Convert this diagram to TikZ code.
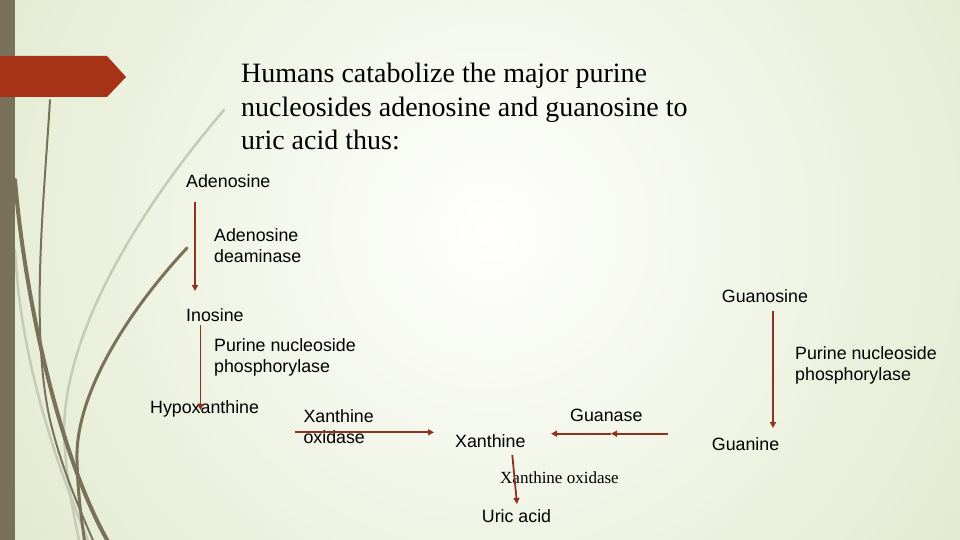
\documentclass[tikz,border=0pt]{standalone}
\usepackage{fontspec}
\setmainfont{Liberation Serif}
\setsansfont{Liberation Sans}
\usetikzlibrary{arrows.meta}
\definecolor{bgout}{RGB}{212,224,182}
\definecolor{barc}{RGB}{122,113,90}
\definecolor{bannerc}{RGB}{166,50,24}
\definecolor{arrc}{RGB}{140,50,30}
\definecolor{swdark}{RGB}{122,113,90}
\definecolor{swlight}{RGB}{197,203,180}
\tikzset{
  lbl/.style={font=\sffamily\fontsize{17.8}{21}\selectfont, inner sep=0pt, anchor=base west, align=left, text=black},
  serifl/.style={font=\fontsize{17}{20}\selectfont, inner sep=0pt, anchor=base west, text=black},
  arr/.style={draw=arrc, line width=1.8pt, -{Triangle[length=6pt,width=6pt]}},
  swd/.style={draw=swdark, line cap=round},
  swl/.style={draw=swlight, line cap=round, line width=2.5pt}
}
\begin{document}
\begin{tikzpicture}[x=1pt,y=-1pt]
\useasboundingbox (0,0) rectangle (960,540);
\begin{scope}
  \clip (0,0) rectangle (960,540);
  \shade[inner color=white, outer color=bgout] (490,230) circle (860);
  % swooshes
  \draw[swl] (224,110) .. controls (130,220) and (55,350) .. (65,450) .. controls (68,490) and (75,520) .. (80,545);
  \draw[swl] (15,250) .. controls (20,350) and (50,450) .. (90,545);
  \draw[swd, line width=2pt] (50,100) .. controls (44,200) and (30,330) .. (50,420) .. controls (62,470) and (80,510) .. (95,545);
  \draw[swd, line width=4pt] (15,180) .. controls (25,300) and (60,460) .. (110,545);
  \draw[swd, line width=3pt] (187,248) .. controls (120,320) and (75,400) .. (77,460) .. controls (78,500) and (82,520) .. (85,545);
  % left bar
  \fill[barc] (0,0) rectangle (15,540);
  % banner
  \fill[bannerc] (0,56) -- (107,56) -- (126,77) -- (107,97) -- (0,97) -- cycle;
\end{scope}

% title (base anchor = baseline of last line)
\node[inner sep=0pt, anchor=base west, align=left, font=\fontsize{28}{33.5}\selectfont] (title) at (241,150)
  {Humans catabolize the major purine\\nucleosides adenosine and guanosine to\\uric acid thus:};

% labels (two-line nodes: base = baseline of second line)
\node[lbl] (adenosine) at (186,187.5) {Adenosine};
\node[lbl] (ada) at (214,262.5) {Adenosine\\deaminase};
\node[lbl] (inosine) at (186,321.5) {Inosine};
\node[lbl] (pnpl) at (214,372.5) {Purine nucleoside\\phosphorylase};
\node[lbl] (hypox) at (150,413.3) {Hypoxanthine};
\node[lbl] (xol) at (303.3,443.3) {Xanthine\\oxidase};
\node[lbl] (xanthine) at (455,447.7) {Xanthine};
\node[lbl] (guanase) at (570,421.7) {Guanase};
\node[lbl] (guanosine) at (721.7,302.3) {Guanosine};
\node[lbl] (pnpr) at (795,380.5) {Purine nucleoside\\phosphorylase};
\node[lbl] (guanine) at (711.7,450.7) {Guanine};
\node[serifl] (xos) at (500,483.3) {Xanthine oxidase};
\node[lbl] (uric) at (481.7,522.7) {Uric acid};

% arrow end points
\coordinate (a1s) at (195,202);
\coordinate (a1e) at (195,291);
\coordinate (a2s) at (200.5,325);
\coordinate (a2e) at (200.5,410);
\coordinate (a3s) at (295,432.3);
\coordinate (a3e) at (434,432.3);
\coordinate (a4s) at (668,433.7);
\coordinate (a4m) at (611,433.7);
\coordinate (a4e) at (551,433.7);
\coordinate (a5s) at (773,311);
\coordinate (a5e) at (773,428);
\coordinate (a6s) at (512.3,455);
\coordinate (a6e) at (517,504);

\draw[arr] (a1s) -- (a1e);
\draw[arr] (a2s) -- (a2e);
\draw[arr] (a3s) -- (a3e);
\draw[arr] (a4s) -- (a4m);
\draw[arr] (a4m) -- (a4e);
\draw[arr] (a5s) -- (a5e);
\draw[arr] (a6s) -- (a6e);
\end{tikzpicture}
\end{document}
